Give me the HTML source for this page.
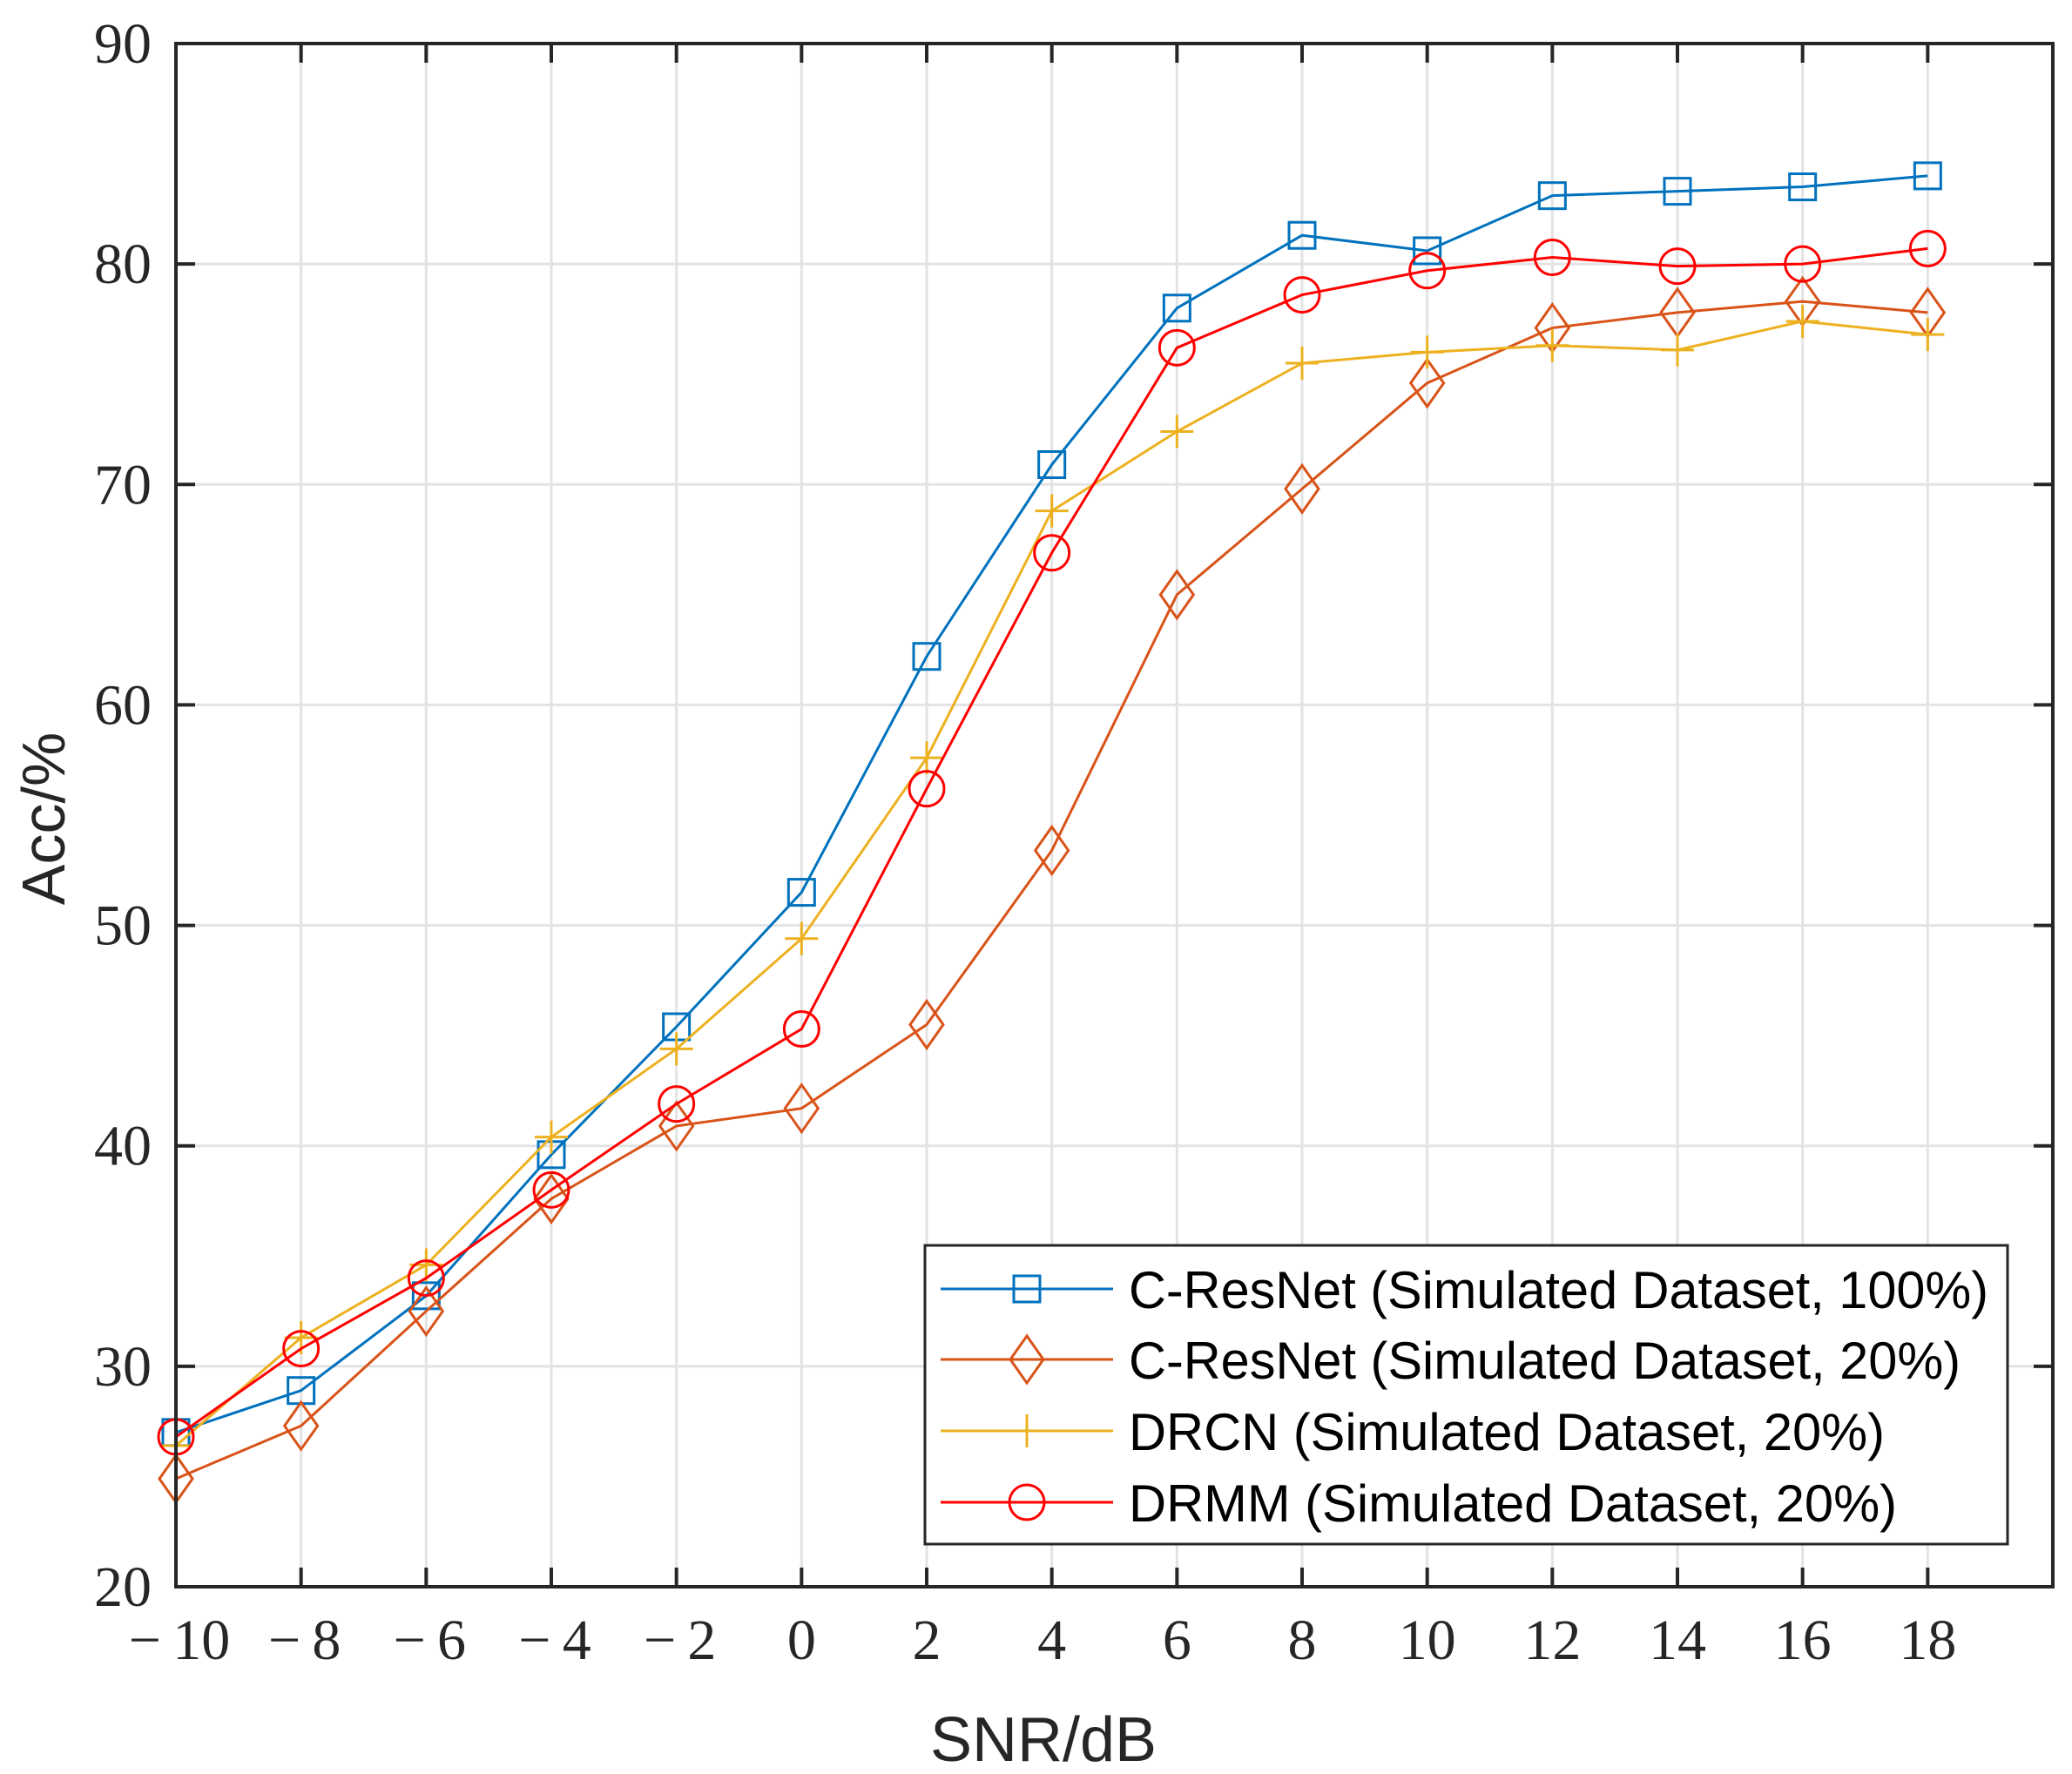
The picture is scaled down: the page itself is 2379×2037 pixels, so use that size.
<!DOCTYPE html>
<html><head><meta charset="utf-8"><style>body{margin:0;background:#fff}svg{display:block}</style></head>
<body>
<svg id="s" width="2379" height="2037" xmlns="http://www.w3.org/2000/svg"></svg>
<script>
const L=202,R=2357,T=50,B=1822;
const X=v=>L+(v+10)*(R-L)/30, Y=v=>B-(v-20)*(B-T)/70;
let h='<rect width="2379" height="2037" fill="#fff"/>';
for(let v=-8;v<=18;v+=2)h+=`<line x1="${X(v)}" y1="${T}" x2="${X(v)}" y2="${B}" stroke="#e3e3e3" stroke-width="3"/>`;
for(let v=30;v<=80;v+=10)h+=`<line x1="${L}" y1="${Y(v)}" x2="${R}" y2="${Y(v)}" stroke="#e3e3e3" stroke-width="3"/>`;
for(let v=-10;v<=18;v+=2){h+=`<line x1="${X(v)}" y1="${B}" x2="${X(v)}" y2="${B-22}" stroke="#262626" stroke-width="4"/><line x1="${X(v)}" y1="${T}" x2="${X(v)}" y2="${T+22}" stroke="#262626" stroke-width="4"/>`;
 h+=`<text x="${X(v)+(v<0?4:0)}" y="1905" font-family="Liberation Serif,serif" font-size="66" fill="#262626" text-anchor="middle">${v<0?'−\u2009'+(-v):v}</text>`;}
for(let v=20;v<=90;v+=10){h+=`<line x1="${L}" y1="${Y(v)}" x2="${L+22}" y2="${Y(v)}" stroke="#262626" stroke-width="4"/><line x1="${R}" y1="${Y(v)}" x2="${R-22}" y2="${Y(v)}" stroke="#262626" stroke-width="4"/>`;
 h+=`<text x="174" y="${Y(v)+22}" font-family="Liberation Serif,serif" font-size="66" fill="#262626" text-anchor="end">${v}</text>`;}
const xs=[];for(let v=-10;v<=18;v+=2)xs.push(v);
const S=[
 ['#0072BD','sq',[27.0,28.9,33.2,39.6,45.4,51.5,62.2,70.9,78.0,81.3,80.6,83.1,83.3,83.5,84.0],'C-ResNet (Simulated Dataset, 100%)',987],
 ['#D95319','di',[24.9,27.3,32.5,37.6,40.9,41.7,45.5,53.4,65.0,69.8,74.6,77.1,77.8,78.3,77.8],'C-ResNet (Simulated Dataset, 20%)',955],
 ['#EDB120','pl',[26.4,31.3,34.6,40.4,44.4,49.4,57.6,68.8,72.4,75.5,76.0,76.3,76.1,77.4,76.8],'DRCN (Simulated Dataset, 20%)',868],
 ['#FF0000','ci',[26.8,30.8,34.0,38.0,41.9,45.3,56.2,66.9,76.2,78.6,79.7,80.3,79.9,80.0,80.7],'DRMM (Simulated Dataset, 20%)',882]];
function mk(t,x,y,c){
 if(t=='sq')return `<rect x="${x-15}" y="${y-15}" width="30" height="30" fill="none" stroke="${c}" stroke-width="3"/>`;
 if(t=='di')return `<polygon points="${x},${y-27} ${x+19},${y} ${x},${y+27} ${x-19},${y}" fill="none" stroke="${c}" stroke-width="3"/>`;
 if(t=='pl')return `<path d="M${x-19} ${y}H${x+19}M${x} ${y-19}V${y+19}" stroke="${c}" stroke-width="3"/>`;
 return `<circle cx="${x}" cy="${y}" r="20" fill="none" stroke="${c}" stroke-width="3"/>`;}
for(const [c,t,d] of S){h+=`<polyline fill="none" stroke="${c}" stroke-width="3" points="${d.map((v,i)=>X(xs[i])+','+Y(v)).join(' ')}"/>`;
 d.forEach((v,i)=>h+=mk(t,X(xs[i]),Y(v),c));}
h+=`<rect x="${L}" y="${T}" width="${R-L}" height="${B-T}" fill="none" stroke="#262626" stroke-width="4"/>`;
h+=`<rect x="1062" y="1430" width="1243" height="343" fill="#fff" stroke="#262626" stroke-width="3"/>`;
const ry=[1480,1561,1643,1725];
S.forEach((s,i)=>{h+=`<line x1="1080" y1="${ry[i]}" x2="1278" y2="${ry[i]}" stroke="${s[0]}" stroke-width="3"/>`+mk(s[1],1179,ry[i],s[0]);
 h+=`<text x="1296" y="${ry[i]+22}" font-family="Liberation Sans,sans-serif" font-size="60" fill="#000" textLength="${s[4]}" lengthAdjust="spacingAndGlyphs">${s[3]}</text>`;});
h+=`<text x="1198" y="2022" font-family="Liberation Sans,sans-serif" font-size="72" fill="#262626" text-anchor="middle">SNR/dB</text>`;
h+=`<text transform="translate(74,940) rotate(-90)" font-family="Liberation Sans,sans-serif" font-size="70" fill="#262626" text-anchor="middle">Acc/%</text>`;
document.getElementById('s').innerHTML=h;
</script>
</body></html>
